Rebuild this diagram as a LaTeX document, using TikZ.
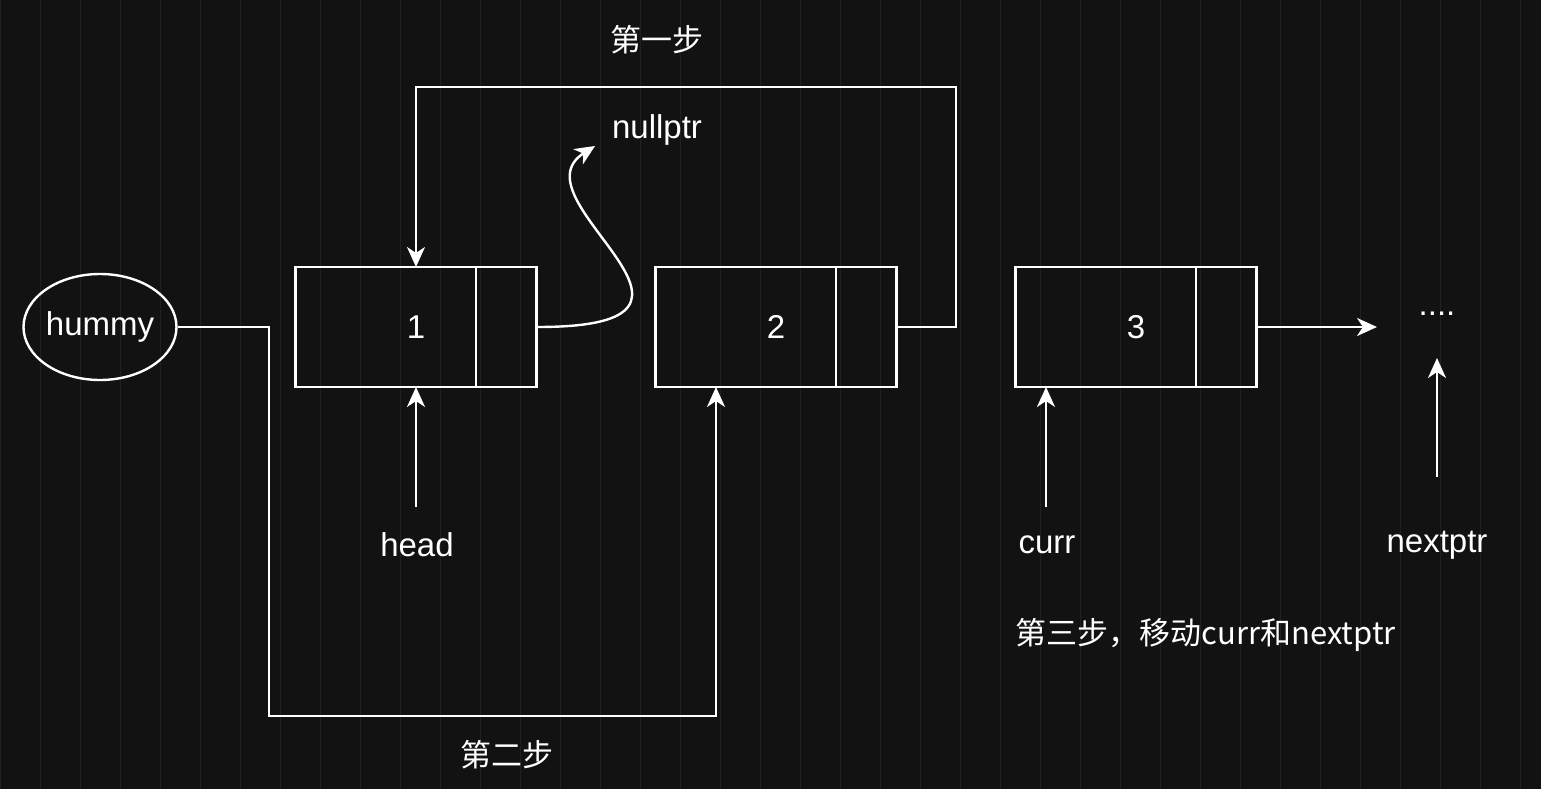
\documentclass[tikz,border=0pt]{standalone}
\usepackage{fontspec}
\setmainfont{Liberation Sans}
\newfontfamily\cjk{Noto Sans CJK SC}
\usetikzlibrary{arrows.meta,shapes.geometric}
\definecolor{bg}{RGB}{18,18,18}
\definecolor{gridc}{RGB}{32,32,32}
\begin{document}
\begin{tikzpicture}[x=1pt,y=-1pt,
  ln/.style={draw=white,line width=2.4pt},
  arr/.style={ln,-{Stealth[length=20pt,width=18pt,inset=6pt]}},
  txt/.style={text=white,font=\fontsize{33}{38}\selectfont},
  ctxt/.style={text=white,font=\cjk\fontsize{31}{36}\selectfont},
  box/.style={ln,minimum width=241pt,minimum height=120pt,inner sep=0pt}]
\fill[bg] (0,0) rectangle (1541,789);
\useasboundingbox (0,0) rectangle (1541,789);
\draw[gridc,line width=1pt,step=40] (0,0) grid (1541,789);
\node[ln,ellipse,minimum width=152pt,minimum height=106pt,inner sep=0pt,txt] (h) at (100,327) {hummy};
\foreach \i/\x in {1/416,2/776,3/1136}{
  \node[box] (b\i) at (\x,327) {};
  \draw[ln] (\x+60,267) -- (\x+60,387);
  \node[txt] (t\i) at (\x,327) {\i};
}
\node[txt] (dots) at (1437,314) {....};
\node[txt] (head) at (417,545) {head};
\node[txt] (curr) at (1047,545) {curr};
\node[txt] (np) at (1437,545) {nextptr};
\node[txt] (null) at (657,130) {nullptr};
\node[ctxt] (s1) at (657,40) {第一步};
\node[ctxt] (s2) at (507,755) {第二步};
\node[ctxt,anchor=west] (s3) at (1012,635) {第三步，移动curr和nextptr};
\coordinate (ha) at (416,507); \coordinate (ca) at (1046,507); \coordinate (na) at (1437,477);
\draw[arr] (ha) -- (416,387);
\draw[arr] (ca) -- (1046,387);
\draw[arr] (na) -- (1437,358);
\draw[arr] (b3.east) -- (1377,327);
\draw[arr] (b2.east) -- (956,327) -- (956,87) -- (416,87) -- (416,267);
\draw[arr] (h.east) -- (269,327) -- (269,716) -- (716,716) -- (716,387);
\draw[arr] (b1.east) .. controls (760,327) and (510,200) .. (595,146);
\end{tikzpicture}
\end{document}
